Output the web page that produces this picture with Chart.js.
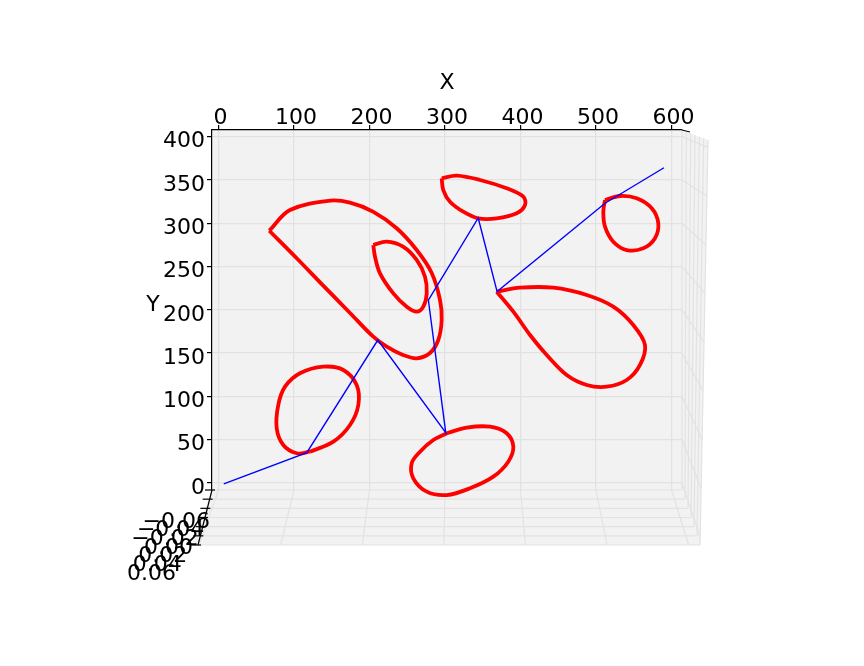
<!DOCTYPE html>
<html>
<head>
<meta charset="utf-8">
<script src="https://cdn.jsdelivr.net/npm/chart.js@4.4.0/dist/chart.umd.min.js"></script>
<style>
  html, body { margin: 0; background: #fff; }
</style>
</head>
<body>
<canvas id="chart" width="864" height="666"></canvas>
<script>
// tick values
const xTicks = [0, 100, 200, 300, 400, 500, 600];
const yTicks = [0, 50, 100, 150, 200, 250, 300, 350, 400];
const zTicks = [-0.06, -0.04, -0.02, 0.00, 0.02, 0.04, 0.06];

// blue path through the loops
const pathX = [7, 117, 211, 301, 278, 344, 369, 512, 590];
const pathY = [-1, 35, 165, 58, 211, 306, 221, 323, 364];

// red loops
const loopAX = [67.3, 94.7, 147.7, 174.2, 204.6, 236, 262.5, 282.4, 293.4, 295.6, 291.1, 280.1, 262.5, 244.4, 222.8, 205, 174.2, 138.4, 103.6, 67.3];
const loopAY = [291.3, 315.2, 326, 323.7, 313.3, 294.1, 269, 242.5, 211.3, 188.2, 165.1, 150.1, 144, 147.8, 157.4, 168.9, 196.3, 228.2, 259.5, 291.3];

const loopBX = [205, 222.8, 244.4, 262.5, 273.5, 275.8, 271.3, 262.5, 249.3, 231.5, 213.9, 207.3, 205];
const loopBY = [274.8, 278.6, 272.9, 257.5, 238.2, 219, 203.6, 197.8, 203.6, 219, 242.1, 261.3, 274.8];

const loopCX = [121.2, 152.1, 174.2, 185.2, 183, 165.3, 138.8, 107.9, 88.1, 79.2, 77.1, 85.8, 103.6, 121.2];
const loopCY = [36.1, 47.7, 67, 90.1, 113.2, 130.5, 134.3, 126.7, 111.2, 90.1, 63.2, 43.9, 34.3, 36.1];

const loopDX = [302.3, 328.7, 359.6, 381.7, 390.5, 383.8, 364, 333.1, 302.3, 275.8, 258, 255.9, 266.9, 284.5, 302.3];
const loopDY = [57.4, 63.9, 65, 57.4, 41.9, 24.6, 7.3, -6.1, -13.9, -10, 5.4, 22.7, 36.1, 49.7, 57.4];

const loopEX = [295.6, 315.5, 346.4, 381.7, 403.7, 406, 395, 368.5, 344.1, 324.2, 306.6, 297.7, 295.6];
const loopEY = [351.8, 354.8, 349.9, 340.3, 330.6, 321, 311.4, 305.6, 305.6, 313.3, 324.8, 338.3, 351.8];

const loopFX = [368.5, 399.3, 443.4, 487.7, 522.9, 549.4, 564.9, 558.3, 540.7, 514.2, 487.7, 461.2, 434.7, 412.6, 390.5, 368.5];
const loopFY = [220.9, 225.5, 225.5, 217.1, 203.6, 182.4, 159.3, 136.3, 118.9, 111.2, 113.2, 124.7, 147.8, 170.9, 197.8, 220.9];

const loopGX = [511.9, 531.8, 553.9, 573.8, 582.5, 578.1, 562.6, 540.7, 522.9, 511.9, 509.7, 511.9];
const loopGY = [326.8, 331.4, 328.7, 317.2, 299.9, 282.6, 271, 269, 278.6, 296, 313.3, 326.8];

const loops = [
  [loopAX, loopAY], [loopBX, loopBY], [loopCX, loopCY], [loopDX, loopDY],
  [loopEX, loopEY], [loopFX, loopFY], [loopGX, loopGY]
];

function pts(xs, ys) {
  return xs.map((x, i) => ({ x: x, y: ys[i] }));
}

const datasets = [{
  data: pts(pathX, pathY),
  showLine: true,
  borderColor: '#0000ff',
  borderWidth: 1.4,
  pointRadius: 0,
  tension: 0,
  clip: false
}];
loops.forEach(l => {
  datasets.push({
    data: pts(l[0], l[1]),
    showLine: true,
    borderColor: '#ff0000',
    borderWidth: 3.8,
    pointRadius: 0,
    tension: 0.35,
    clip: false
  });
});

const font = { family: 'DejaVu Sans', size: 22, lineHeight: 1 };

// panes, floor and side of the 3d box, plus the z axis
const box3d = {
  id: 'box3d',
  beforeDraw(chart) {
    const ctx = chart.ctx, ca = chart.chartArea, xs = chart.scales.x;
    const fl = ca.left - 20, fr = ca.right + 18, fb = ca.bottom + 55;
    const sx = ca.right + 26, st = ca.top + 10;
    ctx.save();
    ctx.fillStyle = '#f2f2f2';
    ctx.fillRect(ca.left, ca.top, ca.width, ca.height);
    ctx.beginPath();
    ctx.moveTo(ca.left, ca.bottom); ctx.lineTo(ca.right, ca.bottom);
    ctx.lineTo(fr, fb); ctx.lineTo(fl, fb); ctx.closePath();
    ctx.fill();
    ctx.beginPath();
    ctx.moveTo(ca.right, ca.top); ctx.lineTo(sx, st);
    ctx.lineTo(fr, fb); ctx.lineTo(ca.right, ca.bottom); ctx.closePath();
    ctx.fill();

    ctx.strokeStyle = '#e2e2e2';
    ctx.lineWidth = 1.2;
    const n = zTicks.length - 1;
    zTicks.forEach((v, i) => {
      const t = i / n;
      ctx.beginPath();
      ctx.moveTo(ca.left + (fl - ca.left) * t, ca.bottom + (fb - ca.bottom) * t);
      ctx.lineTo(ca.right + (fr - ca.right) * t, ca.bottom + (fb - ca.bottom) * t);
      ctx.stroke();
      ctx.beginPath();
      ctx.moveTo(ca.right + (sx - ca.right) * t, ca.top + (st - ca.top) * t);
      ctx.lineTo(ca.right + (fr - ca.right) * t, ca.bottom + (fb - ca.bottom) * t);
      ctx.stroke();
    });
    xTicks.forEach(v => {
      const px = xs.getPixelForValue(v);
      const pf = fl + (px - ca.left) * (fr - fl) / ca.width;
      ctx.beginPath();
      ctx.moveTo(px, ca.bottom); ctx.lineTo(pf, fb); ctx.stroke();
    });
    const ys = chart.scales.y;
    yTicks.forEach(v => {
      const py = ys.getPixelForValue(v);
      const f = (py - ca.top) / ca.height;
      ctx.beginPath();
      ctx.moveTo(ca.right, py);
      ctx.lineTo(sx + (fr - sx) * f, st + (fb - st) * f);
      ctx.stroke();
    });
    ctx.restore();
  },
  afterDraw(chart) {
    const ctx = chart.ctx, ca = chart.chartArea;
    const fl = ca.left - 20, fb = ca.bottom + 55;
    ctx.save();
    ctx.strokeStyle = '#000';
    ctx.lineWidth = 1.2;
    // x axis runs on a little past the pane
    ctx.beginPath();
    ctx.moveTo(ca.right, ca.top); ctx.lineTo(ca.right + 8, ca.top + 2); ctx.stroke();
    // z axis
    ctx.beginPath();
    ctx.moveTo(ca.left, ca.bottom); ctx.lineTo(fl + 6, fb); ctx.stroke();
    const n = zTicks.length - 1;
    ctx.fillStyle = '#000';
    ctx.font = '22px "DejaVu Sans"';
    ctx.textAlign = 'right';
    ctx.textBaseline = 'middle';
    zTicks.forEach((v, i) => {
      const t = i / n;
      const tx = ca.left + (fl + 6 - ca.left) * t, ty = ca.bottom + (fb - ca.bottom) * t;
      ctx.beginPath();
      ctx.moveTo(tx - 7, ty); ctx.lineTo(tx + 3, ty); ctx.stroke();
      const lx = ca.left - 2 - 34 * t, ly = ca.bottom + 32 + 52 * t;
      ctx.fillText(v.toFixed(2).replace('-', '\u2212'), lx, ly);
    });
    ctx.textAlign = 'center';
    ctx.fillText('Y', ca.left - 59, (ca.top + ca.bottom) / 2 - 5);
    ctx.restore();
  }
};

new Chart(document.getElementById('chart'), {
  type: 'scatter',
  data: { datasets: datasets },
  options: {
    responsive: false,
    animation: false,
    devicePixelRatio: 1,
    layout: { padding: { left: 0, top: 70, right: 182, bottom: 176 } },
    plugins: { legend: { display: false }, tooltip: { enabled: false } },
    scales: {
      x: {
        type: 'linear', position: 'top', min: -8.6, max: 613.9,
        afterBuildTicks: s => { s.ticks = xTicks.map(v => ({ value: v })); },
        afterFit: s => { s.height = 60; },
        grid: { color: '#e2e2e2', lineWidth: 1.2, tickColor: '#000', tickLength: 5, tickWidth: 1.2 },
        border: { color: '#000', width: 1.2 },
        ticks: { color: '#000', font: font, padding: -4, maxRotation: 0, labelOffset: 2 },
        title: { display: true, text: 'X', color: '#000', font: { family: 'DejaVu Sans', size: 22 }, padding: { top: 0, bottom: 0 } }
      },
      y: {
        type: 'linear', position: 'left', min: -8.1, max: 407.6,
        afterBuildTicks: s => { s.ticks = yTicks.map(v => ({ value: v })); },
        afterFit: s => { s.width = 212; },
        grid: { color: '#e2e2e2', lineWidth: 1.2, tickColor: '#000', tickLength: 5, tickWidth: 1.2 },
        border: { color: '#000', width: 1.2 },
        ticks: { color: '#000', font: font, padding: 2, labelOffset: 5 }
      }
    }
  },
  plugins: [box3d]
});
</script>
</body>
</html>
